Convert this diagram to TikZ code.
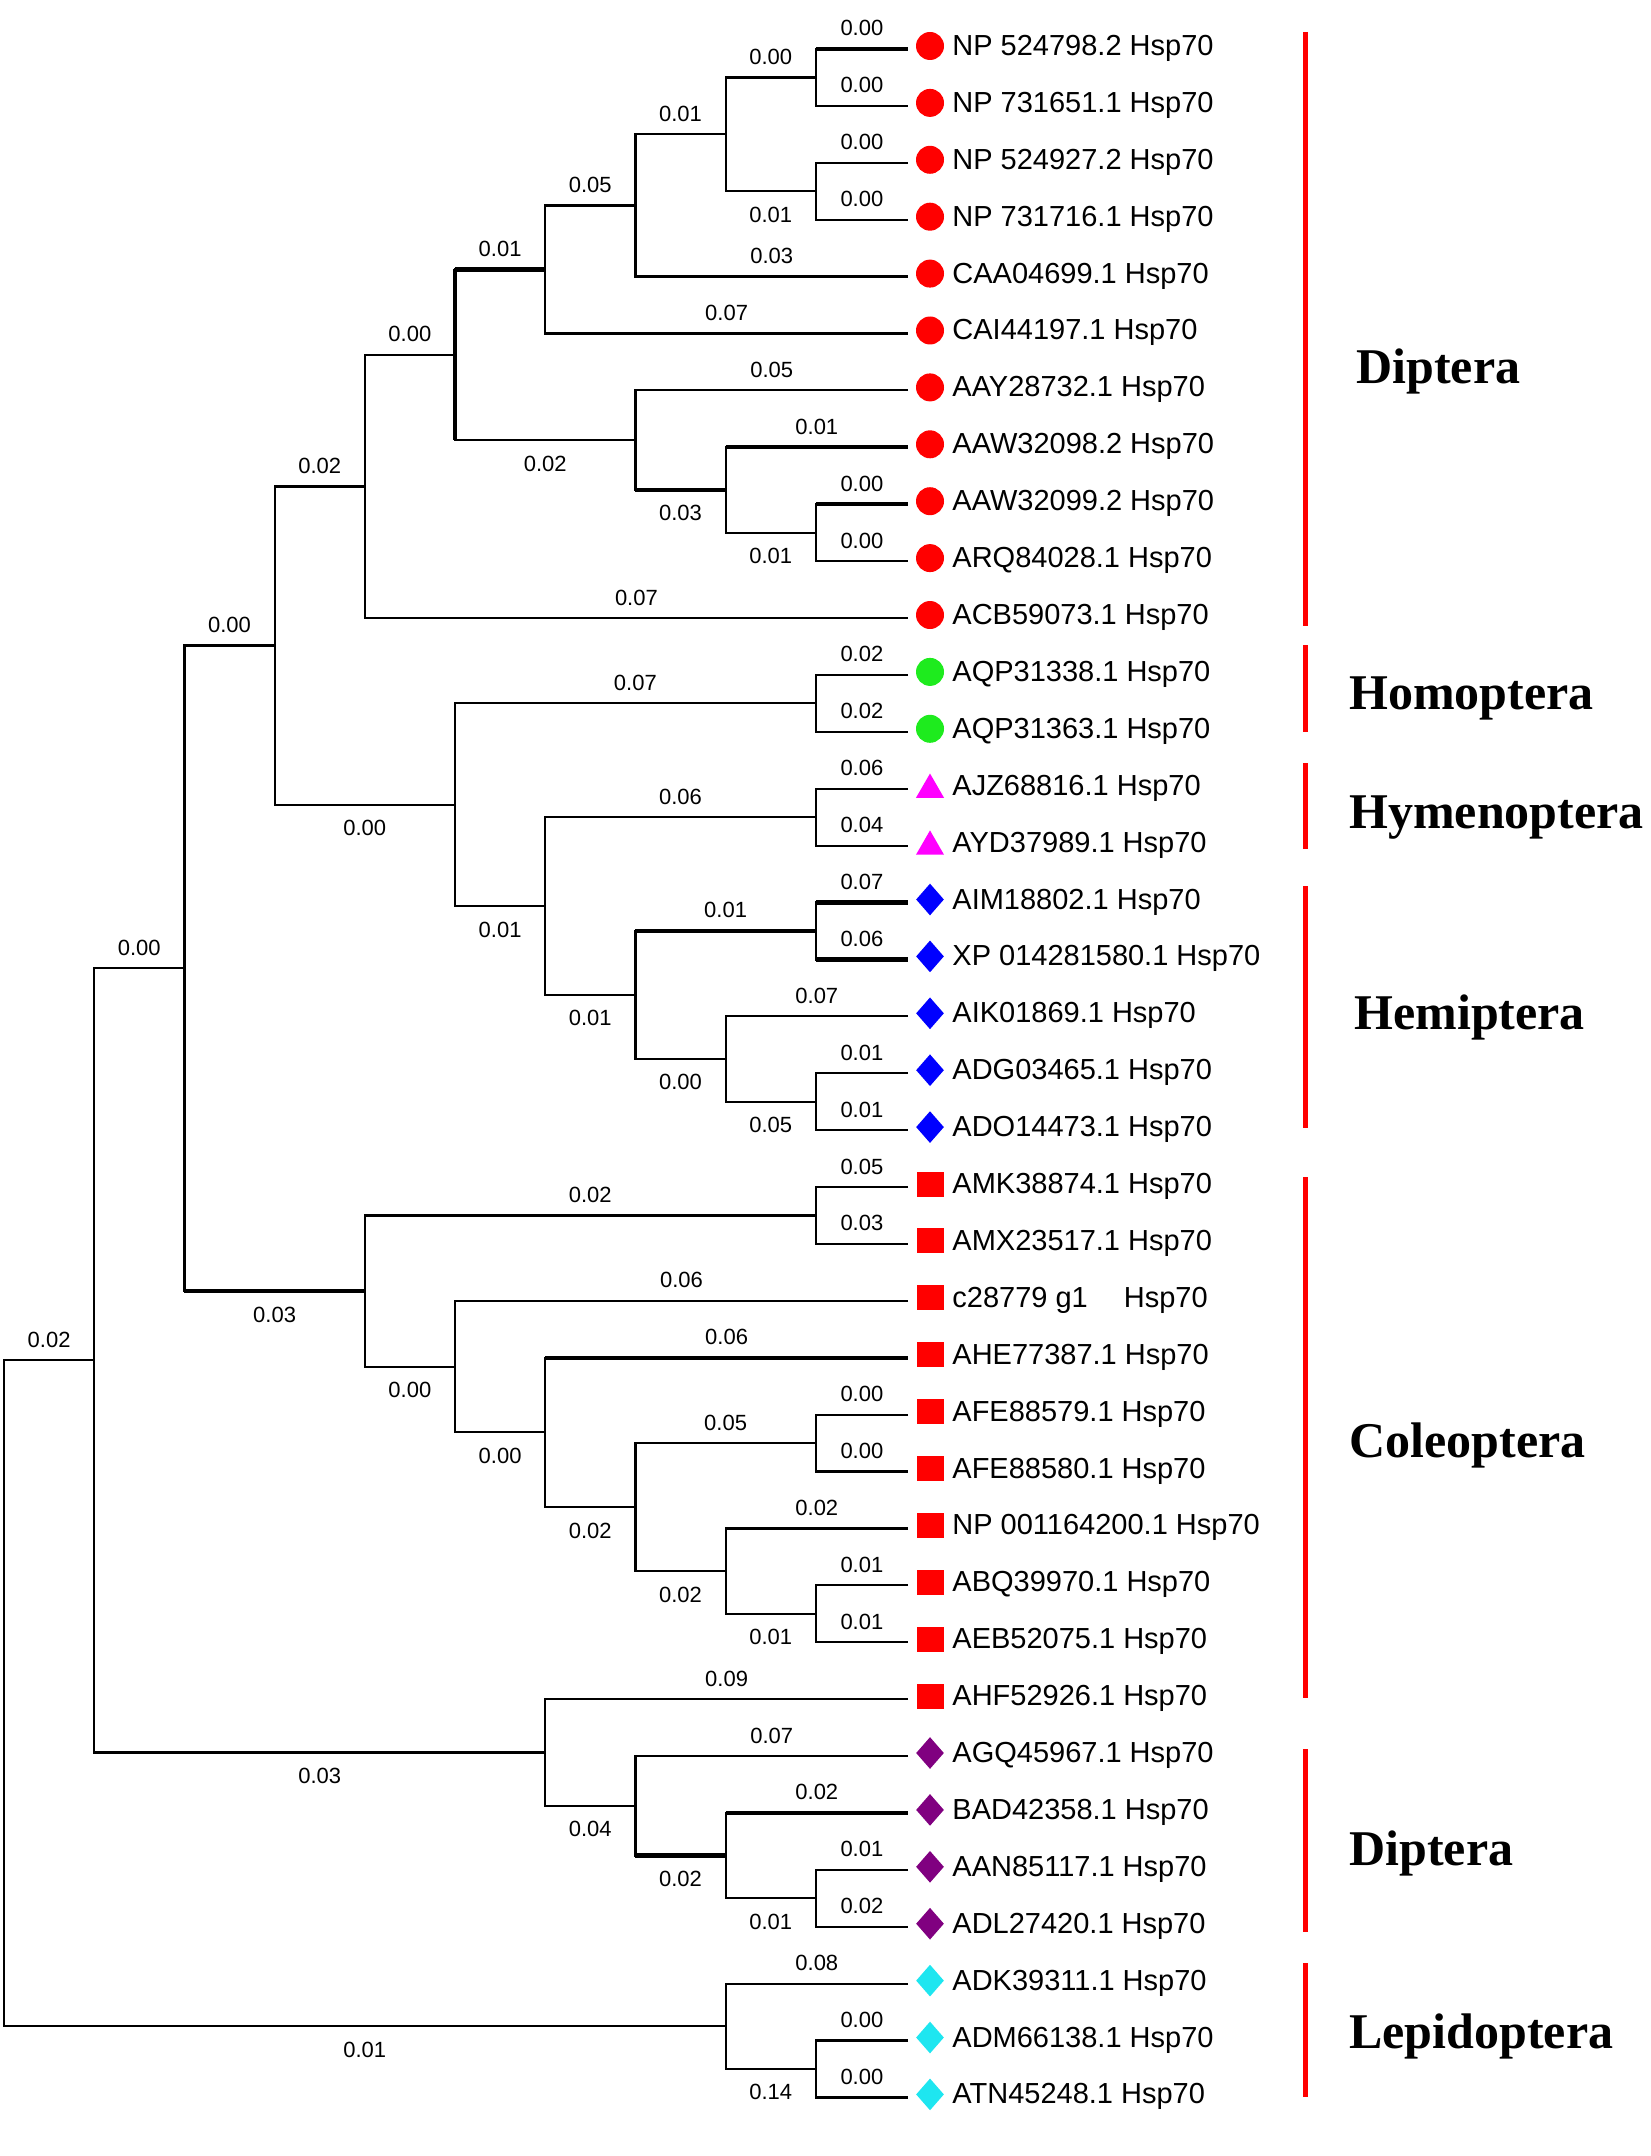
\documentclass[tikz,border=0pt]{standalone}
\usepackage{fontspec}
\setmainfont{Liberation Sans}
\newfontfamily\cladefont{Liberation Serif}
\usetikzlibrary{shapes.geometric, calc}

\definecolor{dipred}{RGB}{255,0,0}
\definecolor{homgreen}{RGB}{30,235,30}
\definecolor{hymmag}{RGB}{255,0,255}
\definecolor{hemblue}{RGB}{0,0,255}
\definecolor{dippur}{RGB}{128,0,128}
\definecolor{lepcyan}{RGB}{30,230,240}

\tikzset{
  br/.style={line width=1.1pt},
  brb/.style={line width=2.1pt},
  bup/.style={anchor=base, inner sep=0pt, yshift=6.5pt, font=\fontsize{11}{13}\selectfont},
  bdn/.style={anchor=base, inner sep=0pt, yshift=-15.5pt, font=\fontsize{11}{13}\selectfont},
  leaf/.style={anchor=base west, inner sep=0pt, yshift=-3.25pt, font=\fontsize{14.5}{17}\selectfont},
  mkc/.style={circle, minimum size=14pt, inner sep=0pt},
  mks/.style={rectangle, minimum width=13.5pt, minimum height=12.5pt, inner sep=0pt},
  mkd/.style={diamond, minimum width=14pt, minimum height=16pt, inner sep=0pt},
  mkt/.style={regular polygon, regular polygon sides=3, minimum size=16.2pt, inner sep=0pt, yshift=-2pt},
  dipc/.style={mkc, fill=dipred},
  homc/.style={mkc, fill=homgreen},
  hymt/.style={mkt, fill=hymmag},
  hemd/.style={mkd, fill=hemblue},
  cols/.style={mks, fill=dipred},
  dipd/.style={mkd, fill=dippur},
  lepd/.style={mkd, fill=lepcyan},
  grp/.style={draw=dipred, line width=2.5pt},
  grplbl/.style={anchor=base west, inner sep=0pt, font=\cladefont\bfseries\fontsize{25}{30}\selectfont},
}

\begin{document}
\begin{tikzpicture}[x=0.5pt, y=-0.5pt,
    declare function={ly(\i)=49+56.9*(\i-1); lx(\k)=4+90.2*\k;}]
  \useasboundingbox (0,0) rectangle (1650,2156);

  % leaf tips
  \foreach \i in {1,...,37}
    \coordinate (l\i) at (908,{ly(\i)});

  % internal nodes (level, mean leaf index)
  \coordinate (n1) at ({lx(9)},{ly(1.5)});
  \coordinate (n2) at ({lx(9)},{ly(3.5)});
  \coordinate (n3) at ({lx(8)},{ly(2.5)});
  \coordinate (n4) at ({lx(7)},{ly(3.75)});
  \coordinate (n5) at ({lx(6)},{ly(4.875)});
  \coordinate (n6) at ({lx(9)},{ly(9.5)});
  \coordinate (n7) at ({lx(8)},{ly(8.75)});
  \coordinate (n8) at ({lx(7)},{ly(7.875)});
  \coordinate (n9) at ({lx(5)},{ly(6.375)});
  \coordinate (n10) at ({lx(4)},{ly(8.6875)});
  \coordinate (n11) at ({lx(9)},{ly(12.5)});
  \coordinate (n12) at ({lx(9)},{ly(14.5)});
  \coordinate (n13) at ({lx(9)},{ly(16.5)});
  \coordinate (n14) at ({lx(9)},{ly(19.5)});
  \coordinate (n15) at ({lx(8)},{ly(18.75)});
  \coordinate (n16) at ({lx(7)},{ly(17.625)});
  \coordinate (n17) at ({lx(6)},{ly(16.0625)});
  \coordinate (n18) at ({lx(5)},{ly(14.28125)});
  \coordinate (n19) at ({lx(3)},{ly(11.484375)});
  \coordinate (n20) at ({lx(9)},{ly(21.5)});
  \coordinate (n21) at ({lx(9)},{ly(25.5)});
  \coordinate (n22) at ({lx(9)},{ly(28.5)});
  \coordinate (n23) at ({lx(8)},{ly(27.75)});
  \coordinate (n24) at ({lx(7)},{ly(26.625)});
  \coordinate (n25) at ({lx(6)},{ly(25.3125)});
  \coordinate (n26) at ({lx(5)},{ly(24.15625)});
  \coordinate (n27) at ({lx(4)},{ly(22.828125)});
  \coordinate (n28) at ({lx(2)},{ly(17.15625)});
  \coordinate (n29) at ({lx(9)},{ly(33.5)});
  \coordinate (n30) at ({lx(8)},{ly(32.75)});
  \coordinate (n31) at ({lx(7)},{ly(31.875)});
  \coordinate (n32) at ({lx(6)},{ly(30.9375)});
  \coordinate (n33) at ({lx(1)},{ly(24.046875)});
  \coordinate (n34) at ({lx(9)},{ly(36.5)});
  \coordinate (n35) at ({lx(8)},{ly(35.75)});
  \coordinate (root) at ({lx(0)},{ly(29.8984375)});

  % Diptera branches
  \draw[br] (l1) -- node[bup] {0.00} (n1 |- l1) -- (n1 |- l2) -- node[bup] {0.00} (l2);
  \draw[br] (l3) -- node[bup] {0.00} (n2 |- l3) -- (n2 |- l4) -- node[bup] {0.00} (l4);
  \draw[br] (n1) -- node[bup] {0.00} (n3 |- n1) -- (n3 |- n2) -- node[bdn] {0.01} (n2);
  \draw[br] (n3) -- node[bup] {0.01} (n4 |- n3) -- (n4 |- l5) -- node[bup] {0.03} (l5);
  \draw[br] (n4) -- node[bup] {0.05} (n5 |- n4) -- (n5 |- l6) -- node[bup] {0.07} (l6);
  \draw[br] (l9) -- node[bup] {0.00} (n6 |- l9) -- (n6 |- l10) -- node[bup] {0.00} (l10);
  \draw[br] (l8) -- node[bup] {0.01} (n7 |- l8) -- (n7 |- n6) -- node[bdn] {0.01} (n6);
  \draw[br] (l7) -- node[bup] {0.05} (n8 |- l7) -- (n8 |- n7) -- node[bdn] {0.03} (n7);
  \draw[br] (n5) -- node[bup] {0.01} (n9 |- n5) -- (n9 |- n8) -- node[bdn] {0.02} (n8);
  \draw[br] (n9) -- node[bup] {0.00} (n10 |- n9) -- (n10 |- l11) -- node[bup] {0.07} (l11);

  % Homoptera, Hymenoptera, Hemiptera branches
  \draw[br] (l12) -- node[bup] {0.02} (n11 |- l12) -- (n11 |- l13) -- node[bup] {0.02} (l13);
  \draw[br] (l14) -- node[bup] {0.06} (n12 |- l14) -- (n12 |- l15) -- node[bup] {0.04} (l15);
  \draw[br] (l16) -- node[bup] {0.07} (n13 |- l16) -- (n13 |- l17) -- node[bup] {0.06} (l17);
  \draw[br] (l19) -- node[bup] {0.01} (n14 |- l19) -- (n14 |- l20) -- node[bup] {0.01} (l20);
  \draw[br] (l18) -- node[bup] {0.07} (n15 |- l18) -- (n15 |- n14) -- node[bdn] {0.05} (n14);
  \draw[br] (n13) -- node[bup] {0.01} (n16 |- n13) -- (n16 |- n15) -- node[bdn] {0.00} (n15);
  \draw[br] (n12) -- node[bup] {0.06} (n17 |- n12) -- (n17 |- n16) -- node[bdn] {0.01} (n16);
  \draw[br] (n11) -- node[bup] {0.07} (n18 |- n11) -- (n18 |- n17) -- node[bdn] {0.01} (n17);
  \draw[br] (n10) -- node[bup] {0.02} (n19 |- n10) -- (n19 |- n18) -- node[bdn] {0.00} (n18);

  % Coleoptera branches
  \draw[br] (l21) -- node[bup] {0.05} (n20 |- l21) -- (n20 |- l22) -- node[bup] {0.03} (l22);
  \draw[br] (l25) -- node[bup] {0.00} (n21 |- l25) -- (n21 |- l26) -- node[bup] {0.00} (l26);
  \draw[br] (l28) -- node[bup] {0.01} (n22 |- l28) -- (n22 |- l29) -- node[bup] {0.01} (l29);
  \draw[br] (l27) -- node[bup] {0.02} (n23 |- l27) -- (n23 |- n22) -- node[bdn] {0.01} (n22);
  \draw[br] (n21) -- node[bup] {0.05} (n24 |- n21) -- (n24 |- n23) -- node[bdn] {0.02} (n23);
  \draw[br] (l24) -- node[bup] {0.06} (n25 |- l24) -- (n25 |- n24) -- node[bdn] {0.02} (n24);
  \draw[br] (l23) -- node[bup] {0.06} (n26 |- l23) -- (n26 |- n25) -- node[bdn] {0.00} (n25);
  \draw[br] (n20) -- node[bup] {0.02} (n27 |- n20) -- (n27 |- n26) -- node[bdn] {0.00} (n26);
  \draw[br] (n19) -- node[bup] {0.00} (n28 |- n19) -- (n28 |- n27) -- node[bdn] {0.03} (n27);

  % second Diptera branches
  \draw[br] (l33) -- node[bup] {0.01} (n29 |- l33) -- (n29 |- l34) -- node[bup] {0.02} (l34);
  \draw[br] (l32) -- node[bup] {0.02} (n30 |- l32) -- (n30 |- n29) -- node[bdn] {0.01} (n29);
  \draw[br] (l31) -- node[bup] {0.07} (n31 |- l31) -- (n31 |- n30) -- node[bdn] {0.02} (n30);
  \draw[br] (l30) -- node[bup] {0.09} (n32 |- l30) -- (n32 |- n31) -- node[bdn] {0.04} (n31);
  \draw[br] (n28) -- node[bup] {0.00} (n33 |- n28) -- (n33 |- n32) -- node[bdn] {0.03} (n32);

  % Lepidoptera branches and root
  \draw[br] (l36) -- node[bup] {0.00} (n34 |- l36) -- (n34 |- l37) -- node[bup] {0.00} (l37);
  \draw[br] (l35) -- node[bup] {0.08} (n35 |- l35) -- (n35 |- n34) -- node[bdn] {0.14} (n34);
  \draw[br] (n33) -- node[bup] {0.02} (root |- n33) -- (root |- n35) -- node[bdn] {0.01} (n35);

  % heavier strokes
  \draw[brb] (n1 |- l1) -- (l1);
  \draw[brb] (n9 |- n5) -- (n5);
  \draw[brb] (n9 |- n5) -- (n9 |- n8);
  \draw[brb] (n7 |- l8) -- (l8);
  \draw[brb] (n8 |- n7) -- (n7);
  \draw[brb] (n6 |- l9) -- (l9);
  \draw[brb] (n16 |- n13) -- (n13);
  \draw[brb] (n13 |- l16) -- (l16);
  \draw[brb] (n13 |- l17) -- (l17);
  \draw[brb] (n28 |- n27) -- (n27);
  \draw[brb] (n25 |- l24) -- (l24);
  \draw[brb] (n30 |- l32) -- (l32);
  \draw[brb] (n31 |- n30) -- (n30);

  % markers and sequence names
  \foreach \i/\m/\t in {
      1/dipc/NP 524798.2 Hsp70, 2/dipc/NP 731651.1 Hsp70,
      3/dipc/NP 524927.2 Hsp70, 4/dipc/NP 731716.1 Hsp70,
      5/dipc/CAA04699.1 Hsp70, 6/dipc/CAI44197.1 Hsp70,
      7/dipc/AAY28732.1 Hsp70, 8/dipc/AAW32098.2 Hsp70,
      9/dipc/AAW32099.2 Hsp70, 10/dipc/ARQ84028.1 Hsp70,
      11/dipc/ACB59073.1 Hsp70,
      12/homc/AQP31338.1 Hsp70, 13/homc/AQP31363.1 Hsp70,
      14/hymt/AJZ68816.1 Hsp70, 15/hymt/AYD37989.1 Hsp70,
      16/hemd/AIM18802.1 Hsp70, 17/hemd/XP 014281580.1 Hsp70,
      18/hemd/AIK01869.1 Hsp70, 19/hemd/ADG03465.1 Hsp70,
      20/hemd/ADO14473.1 Hsp70,
      21/cols/AMK38874.1 Hsp70, 22/cols/AMX23517.1 Hsp70,
      23/cols/{c28779 g1\hspace{18pt}Hsp70}, 24/cols/AHE77387.1 Hsp70,
      25/cols/AFE88579.1 Hsp70, 26/cols/AFE88580.1 Hsp70,
      27/cols/NP 001164200.1 Hsp70, 28/cols/ABQ39970.1 Hsp70,
      29/cols/AEB52075.1 Hsp70, 30/cols/AHF52926.1 Hsp70,
      31/dipd/AGQ45967.1 Hsp70, 32/dipd/BAD42358.1 Hsp70,
      33/dipd/AAN85117.1 Hsp70, 34/dipd/ADL27420.1 Hsp70,
      35/lepd/ADK39311.1 Hsp70, 36/lepd/ADM66138.1 Hsp70,
      37/lepd/ATN45248.1 Hsp70}
  {
    \node[\m] (m\i) at (930,{ly(\i)-3}) {};
    \node[leaf] (t\i) at (952,{ly(\i)}) {\t};
  }

  % order bars
  \draw[grp] (1305,32) -- (1305,626);
  \draw[grp] (1305,645) -- (1305,732);
  \draw[grp] (1305,763) -- (1305,849);
  \draw[grp] (1305,886) -- (1305,1128);
  \draw[grp] (1305,1177) -- (1305,1698);
  \draw[grp] (1305,1749) -- (1305,1932);
  \draw[grp] (1305,1963) -- (1305,2097);

  % order names
  \node[grplbl] (dip1) at (1356,384) {Diptera};
  \node[grplbl] (hom) at (1349,709) {Homoptera};
  \node[grplbl] (hym) at (1349,828) {Hymenoptera};
  \node[grplbl] (hem) at (1354,1029) {Hemiptera};
  \node[grplbl] (col) at (1349,1457) {Coleoptera};
  \node[grplbl] (dip2) at (1349,1865) {Diptera};
  \node[grplbl] (lep) at (1349,2048) {Lepidoptera};
\end{tikzpicture}
\end{document}
